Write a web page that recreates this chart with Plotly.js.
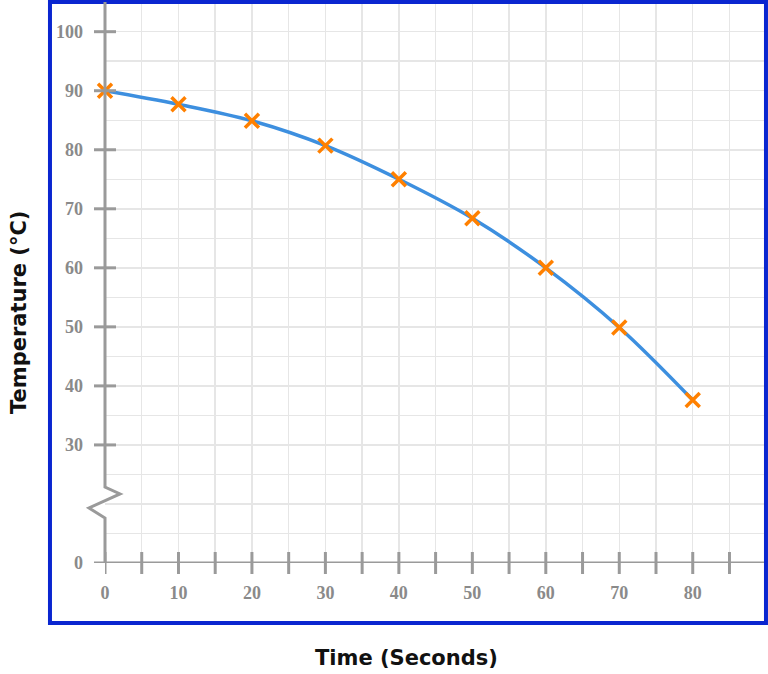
<!DOCTYPE html>
<html>
<head>
<meta charset="utf-8">
<script src="https://cdn.plot.ly/plotly-3.0.1.min.js"></script>
<style>
  html, body { margin: 0; padding: 0; background: #ffffff; }
  #chart { width: 768px; height: 674px; }
</style>
</head>
<body>
<div id="chart"></div>
<script>
// ---- data ----
const timeSec = [0, 10, 20, 30, 40, 50, 60, 70, 80];
const tempC = [90, 87.7, 84.9, 80.7, 75, 68.4, 60, 49.9, 37.6];

// x axis labels and tick marks
const xTickVals = [0, 10, 20, 30, 40, 50, 60, 70, 80];
const xTickText = ['0', '10', '20', '30', '40', '50', '60', '70', '80'];
const xMarkTicks = [0, 5, 10, 15, 20, 25, 30, 35, 40, 45, 50, 55, 60, 65, 70, 75, 80, 85];

// y axis (broken axis: the "0" label sits one step below 30 ... 100)
const yTickVals = [10, 30, 40, 50, 60, 70, 80, 90, 100];
const yTickText = ['0', '30', '40', '50', '60', '70', '80', '90', '100'];
const yMarkTicks = [30, 40, 50, 60, 70, 80, 90, 100];

const xAxisTitle = 'Time (Seconds)';
const yAxisTitle = 'Temperature (°C)';

// ---- styling ----
const axisGray = '#9a9a9a';
const gridGray = '#e6e6e6';
const labelGray = '#8a8a8a';
const lineBlue = '#3d8fdf';
const markOrange = '#ff8000';
const frameBlue = '#0a26d0';

const yTop = 105.03, yBottom = 10;
const xLeft = 0, xRight = 89.7;

const shapes = [];

// outer blue frame
shapes.push({
  type: 'rect', xref: 'paper', yref: 'paper',
  x0: -0.0835, x1: 1.0030, y0: -0.107, y1: 1.0,
  line: { color: frameBlue, width: 4 }, fillcolor: 'rgba(0,0,0,0)', layer: 'above'
});

// y axis line with zigzag break
shapes.push({
  type: 'path', xref: 'paper', yref: 'y',
  path: 'M 0,' + yTop + ' L 0,22.87 L 0.0228,21.69 L -0.0243,19.32 L 0,17.62 L 0,' + yBottom,
  line: { color: axisGray, width: 3 }, layer: 'above'
});

// x axis line (extends slightly left of the y axis)
shapes.push({
  type: 'line', xref: 'paper', yref: 'y',
  x0: -0.0167, x1: 1.0, y0: yBottom, y1: yBottom,
  line: { color: axisGray, width: 3 }, layer: 'above'
});

// x tick marks crossing the axis
xMarkTicks.forEach(v => {
  shapes.push({
    type: 'line', xref: 'x', yref: 'paper',
    ysizemode: 'pixel', yanchor: 0, y0: -11, y1: 11,
    x0: v, x1: v,
    line: { color: axisGray, width: 3 }, layer: 'above'
  });
});

// y tick marks crossing the axis
yMarkTicks.forEach(v => {
  shapes.push({
    type: 'line', xref: 'paper', yref: 'y',
    xsizemode: 'pixel', xanchor: 0, x0: -11, x1: 11,
    y0: v, y1: v,
    line: { color: axisGray, width: 3 }, layer: 'above'
  });
});

const traces = [
  {
    x: timeSec, y: tempC,
    type: 'scatter', mode: 'lines',
    line: { color: lineBlue, width: 3.5, shape: 'spline', smoothing: 1 },
    hoverinfo: 'skip', showlegend: false, cliponaxis: false
  },
  {
    x: timeSec, y: tempC,
    type: 'scatter', mode: 'markers',
    marker: { symbol: 'x-thin-open', size: 14, color: markOrange,
              line: { color: markOrange, width: 3.5 } },
    showlegend: false, cliponaxis: false
  }
];

const tickFont = { family: 'Liberation Serif, Times New Roman, serif', size: 18, color: labelGray, weight: 700 };
const titleFont = { family: 'DejaVu Sans, Open Sans, sans-serif', size: 21, color: '#111111', weight: 700 };

const layout = {
  width: 768, height: 674,
  margin: { l: 105, r: 4, t: 2, b: 111, pad: 0 },
  paper_bgcolor: '#ffffff', plot_bgcolor: '#ffffff',
  showlegend: false,
  xaxis: {
    range: [xLeft, xRight], fixedrange: true,
    tickmode: 'array', tickvals: xTickVals, ticktext: xTickText,
    ticks: '', showline: false, zeroline: false,
    showgrid: true, gridcolor: gridGray, gridwidth: 1.5,
    minor: { dtick: 5, tick0: 0, showgrid: true, gridcolor: gridGray, gridwidth: 1.5, ticks: '' },
    tickfont: tickFont, ticklabelstandoff: 17
  },
  yaxis: {
    range: [yBottom, yTop], fixedrange: true,
    tickmode: 'array', tickvals: yTickVals, ticktext: yTickText,
    ticks: '', showline: false, zeroline: false,
    showgrid: true, gridcolor: gridGray, gridwidth: 1.5,
    minor: { dtick: 5, tick0: 0, showgrid: true, gridcolor: gridGray, gridwidth: 1.5, ticks: '' },
    tickfont: tickFont, ticklabelstandoff: 21
  },
  shapes: shapes,
  annotations: [
    {
      text: xAxisTitle, xref: 'paper', yref: 'paper',
      x: 0.458, y: -0.1693, xanchor: 'center', yanchor: 'middle',
      showarrow: false, font: titleFont
    },
    {
      text: yAxisTitle, xref: 'paper', yref: 'paper',
      x: -0.1305, y: 0.4456, xanchor: 'center', yanchor: 'middle',
      textangle: -90, showarrow: false, font: titleFont
    }
  ]
};

Plotly.newPlot('chart', traces, layout, { displayModeBar: false, staticPlot: true });
</script>
</body>
</html>
